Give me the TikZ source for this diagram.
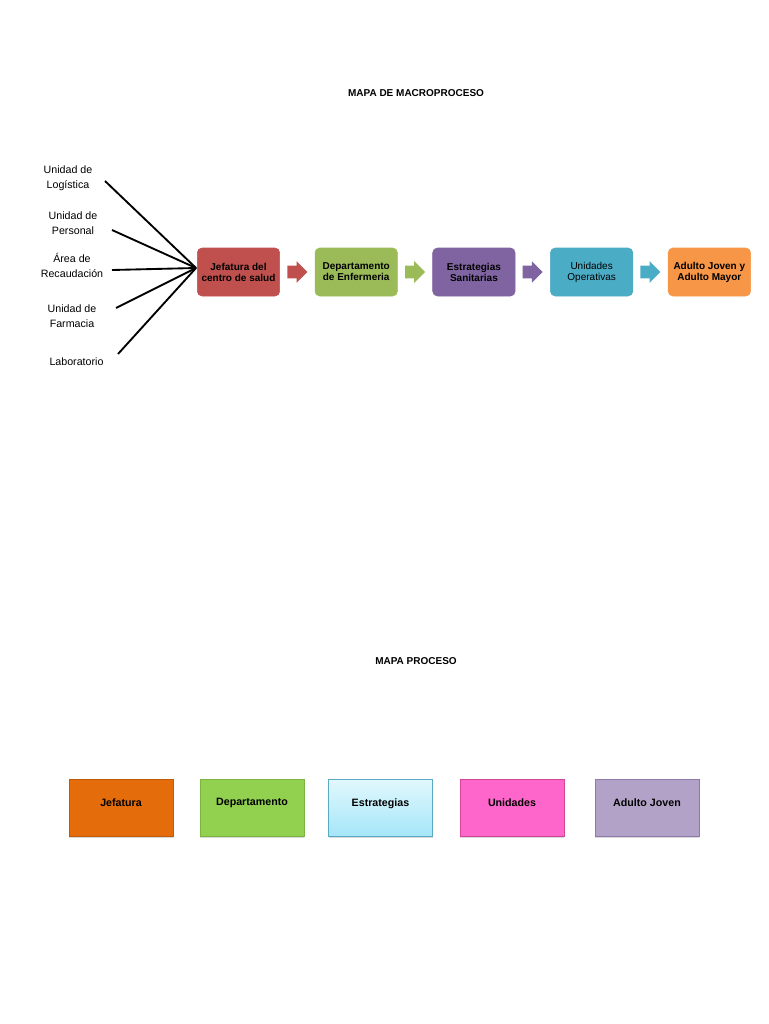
\documentclass[tikz,border=0pt]{standalone}
\usepackage{fontspec}
\setmainfont{Liberation Sans}
\usetikzlibrary{positioning, shapes.arrows, shadows}

\definecolor{jefcol}{HTML}{C0504D}
\definecolor{depcol}{HTML}{9BBB59}
\definecolor{estcol}{HTML}{8064A2}
\definecolor{unicol}{HTML}{4BACC6}
\definecolor{aducol}{HTML}{F79646}

\begin{document}
\begin{tikzpicture}[x=0.75pt, y=-0.75pt]
	\tikzset{proc/.style={rounded corners=3.5pt, minimum width=61.8pt, minimum height=36pt, inner sep=1pt, align=center, font=\fontsize{7.5}{8.3}\selectfont\bfseries},
		flecha/.style={single arrow, draw=none, fill=#1, inner xsep=0pt, inner ysep=4.5pt, single arrow head extend=3.4pt, minimum height=15pt},
		etiq/.style={align=center, font=\fontsize{8}{11.25}\selectfont},
		linea/.style={line width=1.4pt, black},
		caja/.style={minimum width=78pt, minimum height=42.75pt, text depth=8pt, line width=0.6pt, font=\fontsize{8}{9}\selectfont\bfseries, drop shadow={shadow xshift=0pt, shadow yshift=-1.2pt, opacity=0.3}},
		titulo/.style={font=\fontsize{7.5}{9}\selectfont\bfseries},
		node distance=5.3pt}

	\useasboundingbox (0,0) rectangle (768,1024);

	% macroproceso
	\node[titulo] (tit1) at (416,93) {MAPA DE MACROPROCESO};

	\node[proc, fill=jefcol, draw=jefcol] (jef) at (238.5,272) {Jefatura del\\centro de salud};
	\node[flecha=jefcol, right=of jef] (f1) {};
	\node[proc, fill=depcol, draw=depcol, right=of f1] (dep) {Departamento\\de Enfermeria};
	\node[flecha=depcol, right=of dep] (f2) {};
	\node[proc, fill=estcol, draw=estcol, right=of f2] (est) {Estrategias\\Sanitarias};
	\node[flecha=estcol, right=of est] (f3) {};
	\node[proc, fill=unicol, draw=unicol, font=\fontsize{7.5}{8.3}\selectfont, right=of f3] (uni) {Unidades\\Operativas};
	\node[flecha=unicol, right=of uni] (f4) {};
	\node[proc, fill=aducol, draw=aducol, right=of f4] (adu) {Adulto Joven y\\Adulto Mayor};

	\node[etiq] (log) at (68,178.5) {Unidad de\\Logística};
	\node[etiq] (per) at (73,223.5) {Unidad de\\Personal};
	\node[etiq] (rec) at (72,265.5) {Área de\\Recaudación};
	\node[etiq] (far) at (72,316.5) {Unidad de\\Farmacia};
	\node[etiq] (lab) at (76.5,362) {Laboratorio};

	\coordinate (cLog) at (105,181);
	\coordinate (cPer) at (112,230);
	\coordinate (cRec) at (112,270);
	\coordinate (cFar) at (116,308);
	\coordinate (cLab) at (118,354);
	\coordinate (conv) at ([shift={(-1,-4)}]jef.west);

	\foreach \c in {cLog, cPer, cRec, cFar, cLab}
		\draw[linea] (\c) -- (conv);

	% proceso
	\node[titulo] (tit2) at (416,661) {MAPA PROCESO};

	\node[caja, fill={rgb,255:red,228;green,108;blue,10}, draw={rgb,255:red,190;green,90;blue,10}] (jef2) at (121,807.5) {Jefatura};
	\node[caja, fill={rgb,255:red,146;green,208;blue,80}, draw={rgb,255:red,125;green,180;blue,65}] (dep2) at (252,807.5) {Departamento};
	\node[caja, top color={rgb,255:red,226;green,248;blue,253}, bottom color={rgb,255:red,165;green,230;blue,248}, draw={rgb,255:red,90;green,170;blue,195}] (est2) at (380.5,807.5) {Estrategias};
	\node[caja, fill={rgb,255:red,255;green,102;blue,204}, draw={rgb,255:red,210;green,70;blue,150}] (uni2) at (512,807.5) {Unidades};
	\node[caja, fill={rgb,255:red,179;green,162;blue,199}, draw={rgb,255:red,140;green,122;blue,168}] (adu2) at (647,807.5) {Adulto Joven};
\end{tikzpicture}
\end{document}
